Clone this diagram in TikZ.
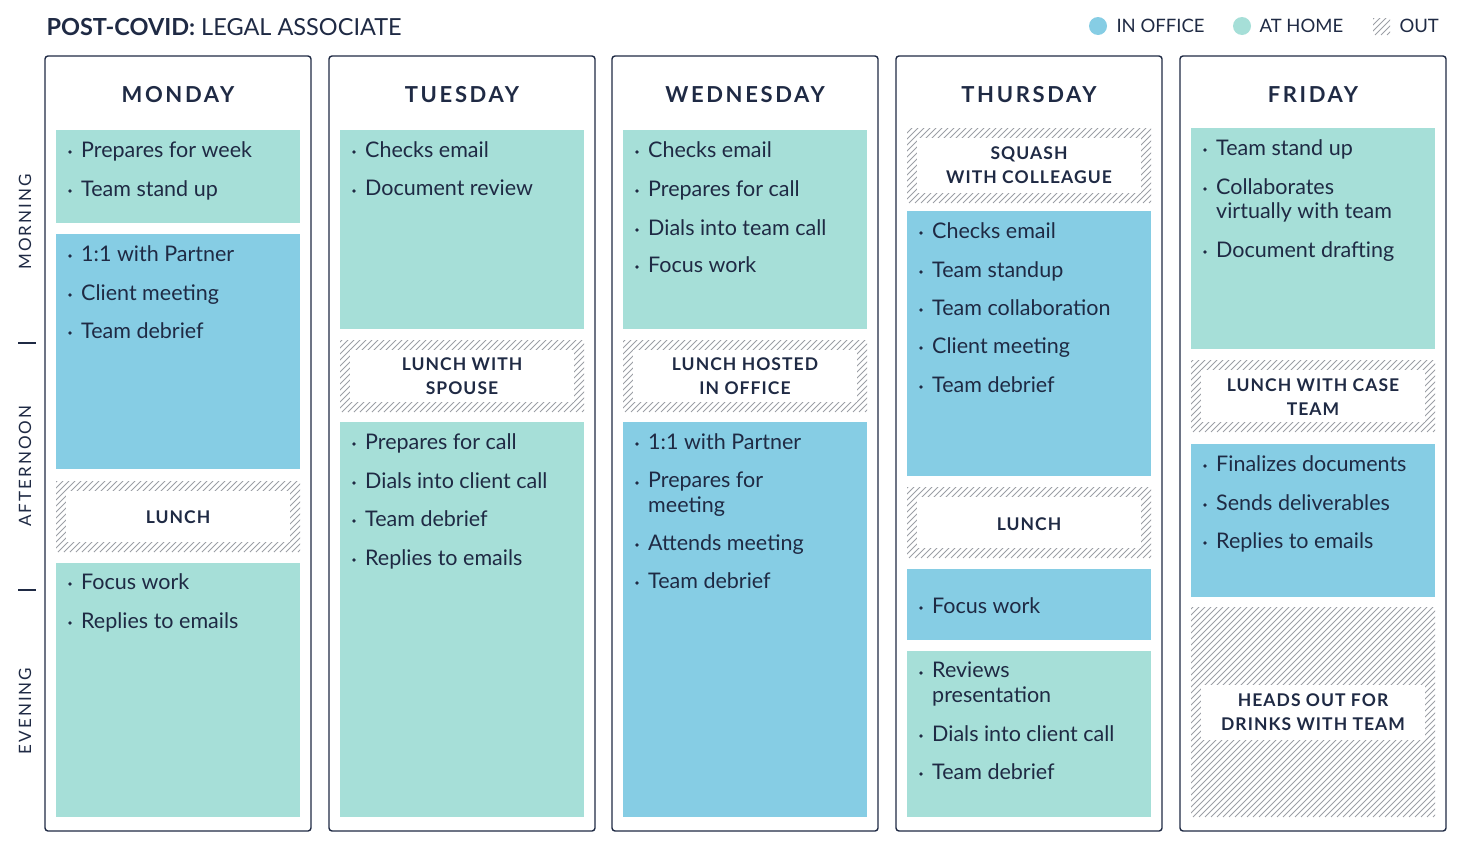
\documentclass[tikz,border=0pt]{standalone}
\usepackage{fontspec}
\setmainfont{Lato}
\newfontfamily\headfont[LetterSpace=12]{Lato}
\newfontfamily\labfont[LetterSpace=6]{Lato}
\definecolor{navy}{HTML}{1F2A44}
\definecolor{office}{HTML}{86CDE4}
\definecolor{home}{HTML}{A6DFD8}
\definecolor{hatchgray}{HTML}{9C9FA6}

% one task line: name, bullet x, y of first line, text
\newcommand\task[4]{%
  \fill[navy] (#2,#3+3) circle (1.8);
  \node[task] (#1) at (#2+11,#3-8) {\rule{0pt}{15pt}#4};}
% hatched block: x1, y1, x2, y2
\newcommand\hatch[4]{%
  \begin{scope}
    \clip (#1,#2) rectangle (#3,#4);
    \foreach \k in {-220,-214,...,250}
      \draw[hatchline] ({#1+\k},#4) -- ++(250,-250);
  \end{scope}}

\begin{document}
\begin{tikzpicture}[x=1pt,y=-1pt]
  \tikzset{
    task/.style={anchor=north west,inner sep=0pt,text=navy,align=left,
      font=\fontsize{21.5}{24.5}\selectfont},
    day/.style={font=\headfont\bfseries\fontsize{22}{26}\selectfont,text=navy},
    lab/.style={font=\labfont\bfseries\fontsize{17.5}{24}\selectfont,text=navy,align=center},
    side/.style={font=\headfont\fontsize{17}{20}\selectfont,text=navy,rotate=90},
    frame/.style={draw=navy,line width=1.4pt,rounded corners=3pt},
    hatchline/.style={draw=hatchgray,line width=1pt},
    legend/.style={font=\fontsize{18.5}{22}\selectfont,text=navy,anchor=west}
  }
  \useasboundingbox (0,0) rectangle (1468,862);

  % title and legend
  \node[anchor=west,text=navy,font=\fontsize{23.5}{27}\selectfont] (title) at (43,27)
    {\textbf{POST-COVID:} LEGAL ASSOCIATE};
  \fill[office] (1098,26) circle (9);
  \node[legend] (leg1) at (1113,26) {IN OFFICE};
  \fill[home] (1242,26) circle (9);
  \node[legend] (leg2) at (1256,26) {AT HOME};
  \hatch{1373}{18}{1390}{35}
  \node[legend] (leg3) at (1396,26) {OUT};

  % parts of the day
  \node[side] (morn) at (25,222) {MORNING};
  \node[side] (aft) at (25,466) {AFTERNOON};
  \node[side] (eve) at (25,711) {EVENING};
  \draw[navy,line width=1.2pt] (18,343) -- (36,343) (18,590) -- (36,590);

  % day columns
  \foreach \x/\d in {45/MONDAY,329/TUESDAY,612/WEDNESDAY,896/THURSDAY,1180/FRIDAY} {
    \draw[frame] (\x,56) rectangle (\x+266,831);
    \node[day] (d-\d) at (\x+133,95) {\d};
  }

  % blocks
  \fill[home] (56,130) rectangle (300,223);
  \fill[office] (56,234) rectangle (300,469);
  \fill[home] (56,563) rectangle (300,817);
  \fill[home] (340,130) rectangle (584,329);
  \fill[home] (340,422) rectangle (584,817);
  \fill[home] (623,130) rectangle (867,329);
  \fill[office] (623,422) rectangle (867,817);
  \fill[office] (907,211) rectangle (1151,476);
  \fill[office] (907,569) rectangle (1151,640);
  \fill[home] (907,651) rectangle (1151,817);
  \fill[home] (1191,128) rectangle (1435,349);
  \fill[office] (1191,444) rectangle (1435,597);

  % out of the office
  \foreach \x/\ya/\yb in {56/481/552,340/340/412,623/340/412,907/128/203,907/487/558,1191/360/432} {
    \hatch{\x}{\ya}{\x+244}{\yb}
    \fill[white] (\x+10,\ya+10) rectangle (\x+234,\yb-10);
  }
  \hatch{1191}{607}{1435}{817}
  \fill[white] (1201,685) rectangle (1425,740);

  \node[lab] (l1) at (178,517) {LUNCH};
  \node[lab] (l2) at (462,376) {LUNCH WITH\\SPOUSE};
  \node[lab] (l3) at (745,376) {LUNCH HOSTED\\IN OFFICE};
  \node[lab] (l4) at (1029,165) {SQUASH\\WITH COLLEAGUE};
  \node[lab] (l5) at (1029,524) {LUNCH};
  \node[lab] (l6) at (1313,397) {LUNCH WITH CASE\\TEAM};
  \node[lab] (l7) at (1313,712) {HEADS OUT FOR\\DRINKS WITH TEAM};

  % Monday
  \task{mo1}{70}{149}{Prepares for week}
  \task{mo2}{70}{188}{Team stand up}
  \task{mo3}{70}{253}{1:1 with Partner}
  \task{mo4}{70}{292}{Client meeting}
  \task{mo5}{70}{330}{Team debrief}
  \task{mo6}{70}{581}{Focus work}
  \task{mo7}{70}{620}{Replies to emails}
  % Tuesday
  \task{tu1}{354}{149}{Checks email}
  \task{tu2}{354}{188}{Document review}
  \task{tu3}{354}{441}{Prepares for call}
  \task{tu4}{354}{480}{Dials into client call}
  \task{tu5}{354}{518}{Team debrief}
  \task{tu6}{354}{557}{Replies to emails}
  % Wednesday
  \task{we1}{637}{149}{Checks email}
  \task{we2}{637}{188}{Prepares for call}
  \task{we3}{637}{227}{Dials into team call}
  \task{we4}{637}{264}{Focus work}
  \task{we5}{637}{441}{1:1 with Partner}
  \task{we6}{637}{480}{Prepares for\\meeting}
  \task{we7}{637}{542}{Attends meeting}
  \task{we8}{637}{580}{Team debrief}
  % Thursday
  \task{th1}{921}{230}{Checks email}
  \task{th2}{921}{269}{Team standup}
  \task{th3}{921}{307}{Team collaboration}
  \task{th4}{921}{345}{Client meeting}
  \task{th5}{921}{384}{Team debrief}
  \task{th6}{921}{605}{Focus work}
  \task{th7}{921}{670}{Reviews\\presentation}
  \task{th8}{921}{733}{Dials into client call}
  \task{th9}{921}{771}{Team debrief}
  % Friday
  \task{fr1}{1205}{147}{Team stand up}
  \task{fr2}{1205}{186}{Collaborates\\virtually with team}
  \task{fr3}{1205}{249}{Document drafting}
  \task{fr4}{1205}{463}{Finalizes documents}
  \task{fr5}{1205}{502}{Sends deliverables}
  \task{fr6}{1205}{540}{Replies to emails}
\end{tikzpicture}
\end{document}
